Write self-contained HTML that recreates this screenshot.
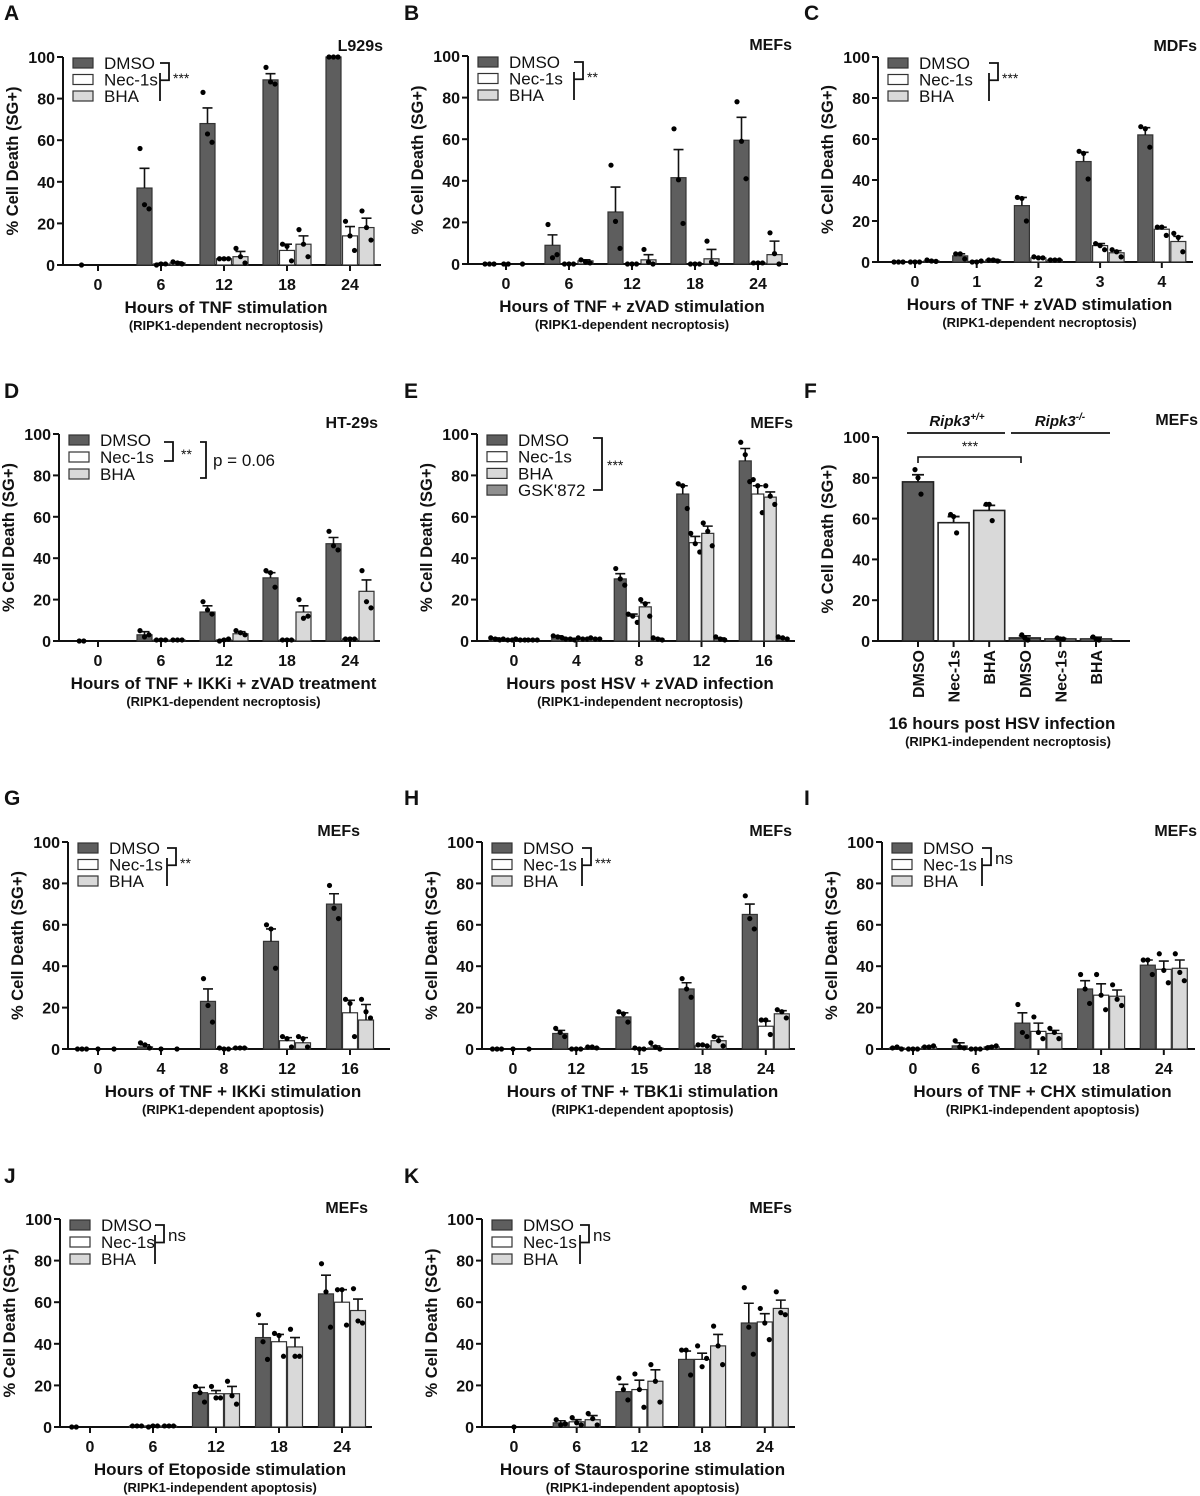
<!DOCTYPE html>
<html><head><meta charset="utf-8">
<style>
html,body{margin:0;padding:0;background:#fff;}
svg{display:block;font-family:"Liberation Sans",Arial,sans-serif;}
</style></head>
<body>
<svg id="fig" width="1200" height="1496" viewBox="0 0 1200 1496" xmlns="http://www.w3.org/2000/svg"></svg>
<script>
// ===== DATA =====
const A_cats=['0','6','12','18','24'];
const A_means=[[0,37,68,89,100],[0,0.5,3,7,14],[0,1,4,10,18]];
const A_errs=[[0,9.5,7.5,3,0.3],[0,0.3,0.3,3,4.5],[0,0.5,2.5,4,4.5]];
const A_pts=[[[0],[56,29,27],[83,63,59],[95,88,87],[100,100,100]],[[],[0,0.5,0.5],[3,3,3],[10,9,2],[21,14,7]],[[],[1.5,1,0.5],[8,4,1],[17,10,4],[26,18,12]]];

const B_cats=['0','6','12','18','24'];
const B_means=[[0,9,25,41.5,59.5],[0,0,0,0,0.5],[0,1.5,2,2.5,4.5]];
const B_errs=[[0,5,12,13.5,11],[0,0,0,0,0.2],[0,0.5,2.5,4.5,6.5]];
const B_pts=[[[0,0,0],[19,3,4.5],[47.5,20.5,7.5],[65,40.5,19.5],[78,59,41]],[[0,0],[0,0,0],[0,0,0],[0,0,0],[0.5,0.5,0.5]],[[0],[2,1,0.5],[7,1,0],[11,1,0],[15,5,0]]];

const C_cats=['0','1','2','3','4'];
const C_means=[[0,3,27.5,49,62],[0.2,0.3,2,8,16],[0.5,1,1,4.5,10]];
const C_errs=[[0,1,4,4.5,3.5],[0,0.2,0.3,1,1],[0.3,0.3,0.3,1,2.5]];
const C_pts=[[[0,0,0],[4,4,1.5],[31.5,31,20],[54,53,40.5],[66,65,56]],[[0,0,0],[0,0,0.5],[2.5,2,2],[9,8,6],[17,17,13]],[[1,0.5,0.3],[1,1,0.5],[1,1,1],[6,5,2.5],[14,12,5]]];

const D_cats=['0','6','12','18','24'];
const D_means=[[0,3,14,30.5,47],[0,0.5,0.5,0.5,1],[0,0.5,3.5,14,24]];
const D_errs=[[0,1.5,3,2.5,3],[0,0.2,0.2,0.2,0.2],[0,0.2,1,3,5.5]];
const D_pts=[[[0,0],[5,2,3],[19,15,13],[34,33,26],[53,46,44]],[[],[0.5,0.5,0.5],[0,0.5,1],[0.5,0.5,0.5],[1,1,1]],[[],[0.5,0.5,0.5],[5,4,3],[20,11,12],[34,19,16]]];

const E_cats=['0','4','8','12','16'];
const E_means=[[1,2,30,71,87],[0.5,1,12,47.5,71],[0.5,1,16.5,52,69.5],[0.5,1,1,1,1]];
const E_errs=[[0.5,0.5,2.5,4,6],[0.2,0.3,1,3,4],[0.2,0.3,2,3.5,2.5],[0.2,0.3,0.3,0.5,0.3]];
const E_pts=[[[1.5,1,0.5],[2.5,2,1.5],[35,30,27],[76,75,64],[96,90,77]],[[1,0.5,0.5],[1,1,0.5],[13,12,9],[52,47,43],[78,75,62]],[[1,0.5,0.5],[1.5,1,1],[20,18,12],[57,53,46],[75,70,66]],[[0.5,0.5,0.5],[1.5,1,1],[1.5,1,0.5],[2,1,0.5],[2,1.5,1]]];

const F_cats=['DMSO','Nec-1s','BHA','DMSO','Nec-1s','BHA'];
const F_means=[78,58,64,1.5,1,1];
const F_errs=[3.5,3,2.5,1,0.3,0.8];
const F_pts=[[84,80,72],[62,61,53],[67,67,59],[3,1.5,0.5],[1.5,1,1],[2,1,0.5]];

const G_cats=['0','4','8','12','16'];
const G_means=[[0,1,23,52,70],[0,0,0,4,17.5],[0,0,0.5,3,14]];
const G_errs=[[0,1,6,6,5],[0,0,0,1.5,6],[0,0,0.2,2.5,7.5]];
const G_pts=[[[0,0,0],[3,2,0.5],[34,21,13],[60,58,39],[79,68,63]],[[0],[0],[0.5,0,0],[6,5,1],[24,22,6]],[[0],[0],[0.5,0.5,0.5],[6,5,1],[24,18,15]]];

const H_cats=['0','12','15','18','24'];
const H_means=[[0,7.5,15.5,29,65],[0,0,0,1.5,11],[0,0.5,0.5,4,17]];
const H_errs=[[0,1.5,2,3,5],[0,0,0,0.3,2.5],[0,0.3,1,2,1.5]];
const H_pts=[[[0,0,0],[10,8,6],[18,17,13],[34,29,25],[74,63,58]],[[0],[0,0,0],[0.5,0,0],[2,2,1.5],[14,14,7]],[[0],[1,1,0.5],[3,1,0],[6,4,1.5],[19,18,15]]];

const I_cats=['0','6','12','18','24'];
const I_means=[[0.5,1.5,12.5,29,40.5],[0.2,0.2,8.5,26,38.5],[1,1,7.5,25.5,39]];
const I_errs=[[0.3,1.5,5,4,2.5],[0,0,4,5.5,4],[0.3,0.5,1.5,3,4]];
const I_pts=[[[0.5,1,0],[4,1,0.5],[21.5,8,6],[36,29,22],[43,43,36]],[[0,0,0],[0,0,0],[15.5,8,5],[36,26,19],[46,38,32]],[[1,1,1.5],[0.5,1,1.5],[10,8,5],[31,24,21],[46,37,33]]];

const J_cats=['0','6','12','18','24'];
const J_means=[[0,0.5,16.5,43,64],[0,0.5,16,41,60],[0,0.5,16,38.5,56]];
const J_errs=[[0,0.2,2.5,6.5,9],[0,0.2,1.5,3.5,6],[0,0.2,3.5,4.5,5.5]];
const J_pts=[[[0,0],[0.5,0.5,0.5],[19.5,16.5,12],[54,41,32.5],[78.5,65,48]],[[],[0,0.5,0.5],[19.5,14,14],[45,44,34],[66,66,49]],[[],[0.5,0.5,0.5],[22,15,11],[47,34,34],[66.5,51,50]]];

const K_cats=['0','6','12','18','24'];
const K_means=[[0,2,17,32.5,50],[0,2.5,18,32.5,50.5],[0,3.5,22,39,57]];
const K_errs=[[0,1,3.5,4,9.5],[0,1,4.5,3,4],[0,2,5.5,5.5,4]];
const K_pts=[[[],[3.5,1,1.5],[23.5,18,13],[37,37,25],[67,48,35]],[[0],[4.5,2,1],[25.5,18,9.5],[39,29,33],[57,50,42]],[[],[6.5,4,1],[30,22,12],[48.5,39,30],[65,55,54]]];

const yTicks=[0,20,40,60,80,100];
const seriesNames=['DMSO','Nec-1s','BHA',"GSK'872"];
const seriesKeys=['dmso','nec-1s','bha','gsk872'];
const seriesColors=['#5e5e5e','#ffffff','#d9d9d9','#8f8f8f'];

// ===== DRAWING =====
const NS='http://www.w3.org/2000/svg';
const svg=document.getElementById('fig');
function mk(tag,attrs,parent,text){
  const e=document.createElementNS(NS,tag);
  for(const k in attrs) e.setAttribute(k,attrs[k]);
  if(text!==undefined) e.textContent=text;
  (parent||svg).appendChild(e);
  return e;
}
function grp(name,parent){
  const g=mk('g',{},parent);
  
  
  return g;
}

function drawYAxis(g,L){
  const ys=v=>L.y0-(L.y0-L.y100)*v/100;
  const ax=mk('line',{x1:L.ax,x2:L.ax,y1:L.y100,y2:L.y0,stroke:'#111','stroke-width':2},g);
  
  
  yTicks.forEach(t=>{
    const tk=mk('line',{x1:L.ax-6,x2:L.ax,y1:ys(t),y2:ys(t),stroke:'#111','stroke-width':2},g);
    
    
    const tl=mk('text',{x:L.ax-8,y:ys(t)+6,'text-anchor':'end','font-size':16,'font-weight':'bold',fill:'#111'},g,String(t));
    
    
  });
  const cy=(L.y100+L.y0)/2;
  const yt=mk('text',{x:0,y:0,transform:`translate(${L.ax-45},${cy}) rotate(-90)`,'text-anchor':'middle','font-size':16.5,'font-weight':'bold',fill:'#111'},g,'% Cell Death (SG+)');
  
  
  return ys;
}

function drawPanel(P){
  const L=P.L;
  const g=grp('panel-'+P.id.toLowerCase());
  const lt=mk('text',{x:L.lx,y:L.ly,'font-size':21,'font-weight':'bold',fill:'#111'},g,P.id);
  
  
  const ct=mk('text',{x:L.cellX,y:L.y100-6,'text-anchor':'end','font-size':16,'font-weight':'bold',fill:'#111'},g,P.cell);
  
  
  const ys=drawYAxis(g,L);
  const xa=mk('line',{x1:L.ax,x2:L.xend,y1:L.y0,y2:L.y0,stroke:'#111','stroke-width':2},g);
  
  
  const xs=i=>L.x0+L.dx*i;
  const nS=P.means.length;
  P.cats.forEach((c,i)=>{
    const tk=mk('line',{x1:xs(i),x2:xs(i),y1:L.y0,y2:L.y0+6,stroke:'#111','stroke-width':2},g);
    
    
    const tl=mk('text',{x:xs(i),y:L.y0+25,'text-anchor':'middle','font-size':16,'font-weight':'bold',fill:'#111'},g,c);
    
    
  });
  for(let s=0;s<nS;s++){
    const sg=grp('series-'+seriesKeys[s],g);
    P.cats.forEach((c,i)=>{
      const cx=xs(i)+(s-(nS-1)/2)*L.step;
      const v=P.means[s][i], e=P.errs[s][i];
      const top=ys(v);
      const b=mk('rect',{x:cx-L.bw/2,y:top,width:L.bw,height:Math.max(0,L.y0-top),fill:seriesColors[s],stroke:'#333','stroke-width':1.2},sg);
      
      
      if(e>0){
        const eb=mk('path',{d:`M${cx},${top}V${ys(v+e)}M${cx-5},${ys(v+e)}H${cx+5}`,stroke:'#111','stroke-width':1.6,fill:'none'},sg);
        
        
      }
      const pts=P.pts[s][i];
      pts.forEach((p,k)=>{
        const off=pts.length===1?0:(k-(pts.length-1)/2)*4.5;
        const d=mk('circle',{cx:cx+off,cy:ys(p),r:2.6,fill:'#000'},sg);
        
        
      });
    });
  }
  const lg=grp('legend',g);
  const nL=P.legendN||nS;
  for(let s=0;s<nL;s++){
    const ry=L.y100+6+s*L.lstep;
    const sw=mk('rect',{x:L.ax+10,y:ry-5,width:20,height:10,fill:seriesColors[s],stroke:'#333','stroke-width':1.2},lg);
    
    
    const tx=mk('text',{x:L.ax+41,y:ry+6,'font-size':17,fill:'#111'},lg,seriesNames[s]);
    
    
  }
  if(P.sig){
    const bx=P.sig.x, y1=L.y100+6, y2=L.y100+6+L.lstep, mid=(y1+y2)/2+4, y3=L.y100+6+2*L.lstep+5;
    const br=mk('path',{d:`M${bx},${y1}H${bx+9}V${mid+5}H${bx}M${bx},${L.y100+16}V${y3}`,stroke:'#111','stroke-width':1.8,fill:'none'},g);
    
    
    const st=mk('text',{x:bx+13,y:L.y100+(P.sig.t==='ns'?22:26),'font-size':P.sig.t==='ns'?17:14,fill:'#111'},g,P.sig.t);
    
    
  }
  const cx=(L.ax+L.xend)/2+4;
  const t1=mk('text',{x:cx,y:L.y0+48,'text-anchor':'middle','font-size':17,'font-weight':'bold',fill:'#111'},g,P.title);
  
  
  const t2=mk('text',{x:cx,y:L.y0+65,'text-anchor':'middle','font-size':13,'font-weight':'bold',fill:'#111'},g,P.sub);
  
  
  return g;
}

const panels=[
 {id:'A',cell:'L929s',cats:A_cats,means:A_means,errs:A_errs,pts:A_pts,sig:{x:160,t:'***'},title:'Hours of TNF stimulation',sub:'(RIPK1-dependent necroptosis)',
  L:{lx:4,ly:20,ax:63,y100:57,y0:265,xend:381,x0:98,dx:63,bw:15,step:16.5,lstep:16.5,cellX:383}},
 {id:'B',cell:'MEFs',cats:B_cats,means:B_means,errs:B_errs,pts:B_pts,sig:{x:574,t:'**'},title:'Hours of TNF + zVAD stimulation',sub:'(RIPK1-dependent necroptosis)',
  L:{lx:404,ly:20,ax:468,y100:56,y0:264,xend:788,x0:506,dx:63,bw:15,step:16.5,lstep:16.5,cellX:792}},
 {id:'C',cell:'MDFs',cats:C_cats,means:C_means,errs:C_errs,pts:C_pts,sig:{x:989,t:'***'},title:'Hours of TNF + zVAD stimulation',sub:'(RIPK1-dependent necroptosis)',
  L:{lx:804,ly:20,ax:878,y100:57,y0:262,xend:1193,x0:915,dx:61.7,bw:15,step:16.5,lstep:16.5,cellX:1197}},
 {id:'D',cell:'HT-29s',cats:D_cats,means:D_means,errs:D_errs,pts:D_pts,title:'Hours of TNF + IKKi + zVAD treatment',sub:'(RIPK1-dependent necroptosis)',
  L:{lx:4,ly:398,ax:59,y100:434,y0:641,xend:380,x0:98,dx:63,bw:15,step:16.5,lstep:17,cellX:378}},
 {id:'E',cell:'MEFs',cats:E_cats,means:E_means,errs:E_errs,pts:E_pts,title:'Hours post HSV + zVAD infection',sub:'(RIPK1-independent necroptosis)',
  L:{lx:404,ly:398,ax:477,y100:434,y0:641,xend:795,x0:514,dx:62.5,bw:12,step:12.5,lstep:16.7,cellX:793}},
 {id:'G',cell:'MEFs',cats:G_cats,means:G_means,errs:G_errs,pts:G_pts,sig:{x:167,t:'**'},title:'Hours of TNF + IKKi stimulation',sub:'(RIPK1-dependent apoptosis)',
  L:{lx:4,ly:805,ax:68,y100:842,y0:1049,xend:390,x0:98,dx:63,bw:15,step:16,lstep:16.5,cellX:360}},
 {id:'H',cell:'MEFs',cats:H_cats,means:H_means,errs:H_errs,pts:H_pts,sig:{x:582,t:'***'},title:'Hours of TNF + TBK1i stimulation',sub:'(RIPK1-dependent apoptosis)',
  L:{lx:404,ly:805,ax:482,y100:842,y0:1049,xend:795,x0:513,dx:63.2,bw:15,step:16,lstep:16.5,cellX:792}},
 {id:'I',cell:'MEFs',cats:I_cats,means:I_means,errs:I_errs,pts:I_pts,sig:{x:982,t:'ns'},title:'Hours of TNF + CHX stimulation',sub:'(RIPK1-independent apoptosis)',
  L:{lx:804,ly:805,ax:882,y100:842,y0:1049,xend:1195,x0:913,dx:62.7,bw:15,step:16,lstep:16.5,cellX:1197}},
 {id:'J',cell:'MEFs',cats:J_cats,means:J_means,errs:J_errs,pts:J_pts,sig:{x:155,t:'ns'},title:'Hours of Etoposide stimulation',sub:'(RIPK1-independent apoptosis)',
  L:{lx:4,ly:1183,ax:60,y100:1219,y0:1427,xend:372,x0:90,dx:63,bw:15,step:16,lstep:17,cellX:368}},
 {id:'K',cell:'MEFs',cats:K_cats,means:K_means,errs:K_errs,pts:K_pts,sig:{x:580,t:'ns'},title:'Hours of Staurosporine stimulation',sub:'(RIPK1-independent apoptosis)',
  L:{lx:404,ly:1183,ax:482,y100:1219,y0:1427,xend:795,x0:514,dx:62.7,bw:15,step:16,lstep:17,cellX:792}}
];
const drawn={};
panels.forEach(P=>{drawn[P.id]=drawPanel(P);});

(function(){
  const gD=drawn['D'];
  const b1=mk('path',{d:'M164,442H173V461H164',stroke:'#111','stroke-width':1.8,fill:'none'},gD);
  
  
  const s1=mk('text',{x:181,y:459,'font-size':14,fill:'#111'},gD,'**');
  
  
  const b2=mk('path',{d:'M200,442H206V478H200',stroke:'#111','stroke-width':1.8,fill:'none'},gD);
  
  
  const s2=mk('text',{x:213,y:466,'font-size':17,fill:'#111'},gD,'p = 0.06');
  
  
  const gE=drawn['E'];
  const b3=mk('path',{d:'M593,438H602V490H593',stroke:'#111','stroke-width':1.8,fill:'none'},gE);
  
  
  const s3=mk('text',{x:607,y:470,'font-size':14,fill:'#111'},gE,'***');
  
  
})();

(function(){
  const L={ax:878,y100:437,y0:641,xend:1130,x0:918,dx:35.6,bw:31};
  const g=grp('panel-f');
  const lt=mk('text',{x:804,y:398,'font-size':21,'font-weight':'bold',fill:'#111'},g,'F');
  
  
  const ct=mk('text',{x:1198,y:425,'text-anchor':'end','font-size':16,'font-weight':'bold',fill:'#111'},g,'MEFs');
  
  
  const ys=drawYAxis(g,L);
  const xa=mk('line',{x1:L.ax,x2:L.xend,y1:L.y0,y2:L.y0,stroke:'#111','stroke-width':2},g);
  
  
  const xs=i=>L.x0+L.dx*i;
  F_cats.forEach((c,i)=>{
    const cx=xs(i), v=F_means[i], e=F_errs[i], top=ys(v), s=i%3;
    const b=mk('rect',{x:cx-L.bw/2,y:top,width:L.bw,height:L.y0-top,fill:seriesColors[s],stroke:'#222','stroke-width':1.6},g);
    
    
    const eb=mk('path',{d:`M${cx},${top}V${ys(v+e)}M${cx-6},${ys(v+e)}H${cx+6}`,stroke:'#111','stroke-width':1.8,fill:'none'},g);
    
    
    F_pts[i].forEach((p,k)=>{
      const d=mk('circle',{cx:cx+(k-1)*3,cy:ys(p),r:2.6,fill:'#000'},g);
      
      
    });
    const tk=mk('line',{x1:cx,x2:cx,y1:L.y0,y2:L.y0+6,stroke:'#111','stroke-width':2},g);
    
    
    const tl=mk('text',{x:0,y:0,transform:`translate(${cx+6},${L.y0+9}) rotate(-90)`,'text-anchor':'end','font-size':16,'font-weight':'bold',fill:'#111'},g,c);
    
    
  });
  const l1=mk('line',{x1:907,x2:1005,y1:433,y2:433,stroke:'#111','stroke-width':1.8},g);
  
  
  const l2=mk('line',{x1:1011,x2:1110,y1:433,y2:433,stroke:'#111','stroke-width':1.8},g);
  
  
  const g1=mk('text',{x:957,y:426,'text-anchor':'middle','font-size':15,'font-weight':'bold','font-style':'italic',fill:'#111'},g);
  
  
  g1.appendChild(document.createTextNode('Ripk3'));
  mk('tspan',{'font-size':10,dy:-6},g1,'+/+');
  const g2=mk('text',{x:1060,y:426,'text-anchor':'middle','font-size':15,'font-weight':'bold','font-style':'italic',fill:'#111'},g);
  
  
  g2.appendChild(document.createTextNode('Ripk3'));
  mk('tspan',{'font-size':10,dy:-6},g2,'-/-');
  const br=mk('path',{d:'M918,463V457H1021V463',stroke:'#111','stroke-width':1.6,fill:'none'},g);
  
  
  const st=mk('text',{x:970,y:451,'text-anchor':'middle','font-size':14,fill:'#111'},g,'***');
  
  
  const t1=mk('text',{x:1002,y:729,'text-anchor':'middle','font-size':17,'font-weight':'bold',fill:'#111'},g,'16 hours post HSV infection');
  
  
  const t2=mk('text',{x:1008,y:746,'text-anchor':'middle','font-size':13,'font-weight':'bold',fill:'#111'},g,'(RIPK1-independent necroptosis)');
  
  
})();
</script>
</body></html>
